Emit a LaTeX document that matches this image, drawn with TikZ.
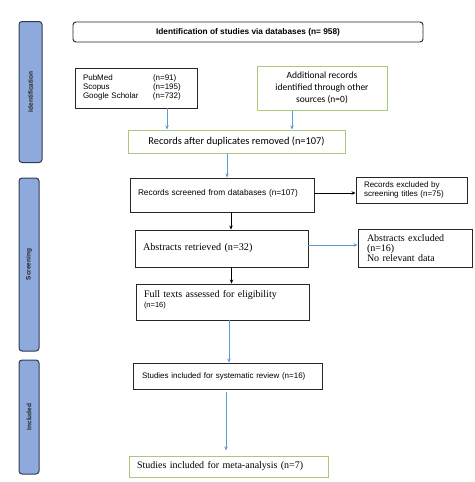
\documentclass[tikz,border=0pt]{standalone}
\usepackage{fontspec}
\setmainfont{Liberation Serif}
\setsansfont{Liberation Sans}
\newfontfamily\calfont{Carlito}
\usetikzlibrary{arrows.meta}
\definecolor{phasefill}{HTML}{8EA9DB}
\definecolor{phasedraw}{HTML}{2F3B52}
\definecolor{arrblue}{HTML}{5B9BD5}
\definecolor{boxgreen}{HTML}{A9C97A}
\tikzset{
  box/.style={draw=black!85, line width=0.9pt, inner sep=0pt, minimum width=#1},
  gbox/.style={draw=boxgreen, line width=1pt, inner sep=0pt, minimum width=#1},
  phase/.style={draw=phasedraw, fill=phasefill, line width=1pt, rounded corners=3pt, inner sep=0pt},
  phasetxt/.style={rotate=90, font=\sffamily\bfseries\fontsize{6.5}{8}\selectfont, text=black!85},
  barrow/.style={draw=arrblue, line width=0.9pt, -{Stealth[length=4pt,width=3.5pt]}},
  karrow/.style={draw=black, line width=1pt, -{Stealth[length=4pt,width=3.5pt]}},
}
\begin{document}
\begin{tikzpicture}[x=1pt,y=-1pt]
\useasboundingbox (0,0) rectangle (474,482);
% phase bars
\node[phase, minimum width=23pt, minimum height=141pt] (pid) at (30.5,92) {};
\node[phasetxt] (tid) at (pid.center) {Identification};
\node[phase, minimum width=20pt, minimum height=173pt] (psc) at (29,264.5) {};
\node[phasetxt] (tsc) at (psc.center) {Screening};
\node[phase, minimum width=20pt, minimum height=114pt] (pin) at (29,417) {};
\node[phasetxt] (tin) at (pin.center) {Included};
% title
\node[box=350pt, minimum height=20pt, rounded corners=3pt, font=\sffamily\bfseries\fontsize{8.3}{9}\selectfont] (title) at (248,32) {Identification of studies via databases (n= 958)};
% pubmed
\node[box=122pt, minimum height=40pt, font=\sffamily\fontsize{8}{8.8}\selectfont, text width=106pt, inner xsep=8pt, align=left] (pub) at (136,88)
 {\begin{tabular}{@{}p{70pt}@{}l@{}}PubMed & (n=91)\\Scopus & (n=195)\\Google Scholar & (n=732)\end{tabular}};
% additional
\node[gbox=130pt, minimum height=44pt, align=center, font=\calfont\fontsize{9.5}{12}\selectfont] (add) at (322,88)
 {Additional records\\identified through other\\sources (n=0)};
% duplicates
\node[gbox=217pt, minimum height=23pt, font=\calfont\fontsize{10.4}{11}\selectfont] (dup) at (236.5,141.5) {Records after duplicates removed (n=107)};
% screened
\node[box=184pt, minimum height=34pt, font=\sffamily\fontsize{8.3}{9}\selectfont, text width=168pt, inner xsep=8pt, align=left] (scr) at (222,195) {Records screened from databases (n=107)\vspace{3pt}};
% excluded by titles
\node[box=111pt, minimum height=26pt, font=\sffamily\fontsize{8}{8.8}\selectfont, text width=95pt, inner xsep=8pt, align=left] (ex1) at (411.5,190) {Records excluded by\\screening titles (n=75)};
% abstracts
\node[box=173pt, minimum height=37pt, font=\fontsize{10.2}{11}\selectfont, text width=157pt, inner xsep=8pt, align=left] (abs) at (221.5,248.5) {Abstracts retrieved (n=32)};
% abstracts excluded
\node[box=114pt, minimum height=38pt, font=\fontsize{10}{10}\selectfont, text width=96pt, inner xsep=9pt, align=left] (ex2) at (415,248) {Abstracts excluded\\(n=16)\\No relevant data};
% full texts
\node[box=173pt, minimum height=36pt, font=\fontsize{10}{10}\selectfont, text width=157pt, inner xsep=8pt, align=left] (full) at (222.5,302) {Full texts assessed for eligibility\\{\sffamily\fontsize{7.5}{9}\selectfont (n=16)}\vspace{4pt}};
% systematic review
\node[box=189pt, minimum height=26pt, font=\sffamily\fontsize{8}{9}\selectfont, text width=171pt, inner xsep=9pt, align=left] (sys) at (227.5,376) {Studies included for systematic review (n=16)};
% meta-analysis
\node[gbox=199pt, minimum height=21pt, font=\fontsize{10}{10}\selectfont, text width=183pt, inner xsep=8pt, align=left] (meta) at (228.5,466.5) {Studies included for meta-analysis (n=7)};
% arrows
\draw[barrow] ([xshift=31pt]pub.south) -- ([xshift=31pt]pub.south |- dup.north);
\draw[barrow] ([xshift=-30pt]add.south) -- ([xshift=-30pt]add.south |- dup.north);
\draw[barrow] ([xshift=-9.5pt]dup.south) -- ([xshift=-9.5pt]dup.south |- scr.north);
\draw[karrow] ([yshift=-3pt]scr.east |- ex1.west) -- ([yshift=-3pt]ex1.west);
\draw[karrow] ([xshift=9pt]scr.south) -- ([xshift=9pt]scr.south |- abs.north);
\draw[barrow] ([yshift=3.5pt]abs.east) -- ([yshift=3.5pt]abs.east -| ex2.west);
\draw[karrow] ([xshift=10pt]abs.south) -- ([xshift=10pt]abs.south |- full.north);
\draw[barrow] ([xshift=6.5pt]full.south) -- ([xshift=6.5pt]full.south |- sys.north);
\draw[barrow] ([xshift=-1.5pt,yshift=-3pt]sys.south) -- ([xshift=-1.5pt,yshift=5pt]sys.south |- meta.north);
\end{tikzpicture}
\end{document}
